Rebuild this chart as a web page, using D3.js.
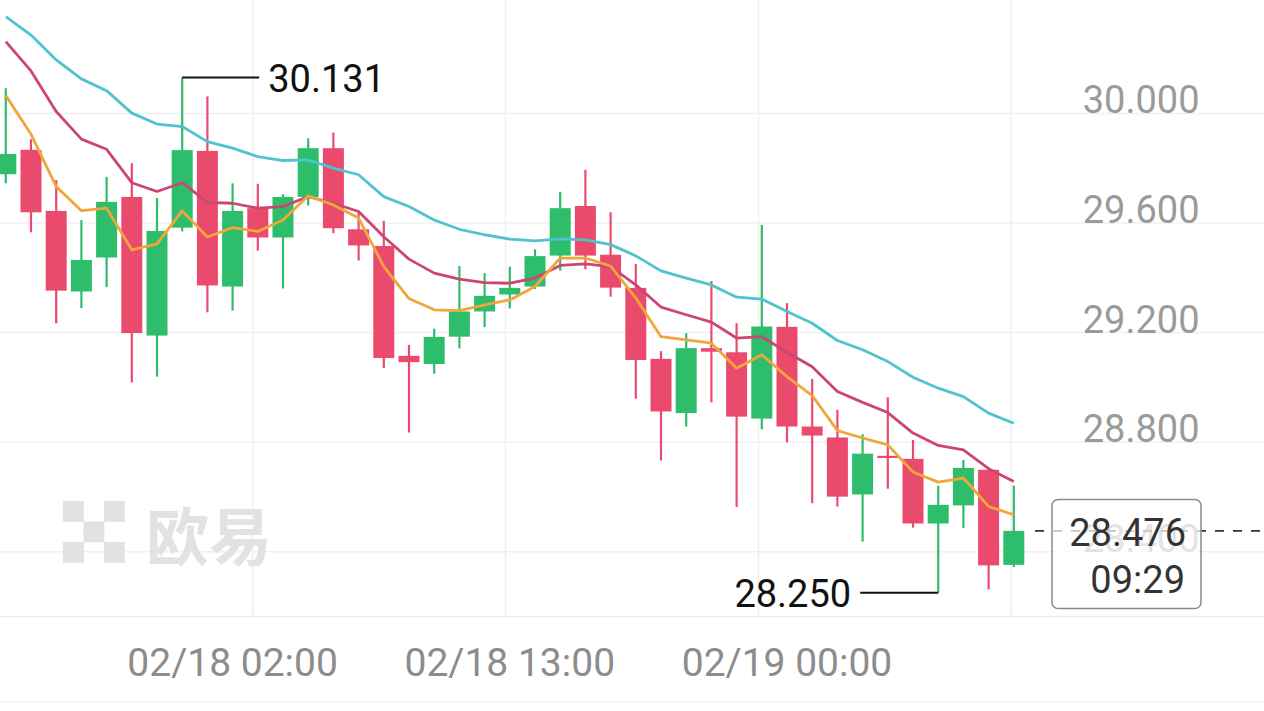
<!DOCTYPE html>
<html>
<head>
<meta charset="utf-8">
<script src="https://cdn.jsdelivr.net/npm/d3@7"></script>
<style>
  html, body { margin: 0; padding: 0; background: #fff; }
  svg { display: block; }
</style>
</head>
<body>
<svg id="chart" width="1264" height="711"></svg>
<script>
// ---- data (hourly candles, 02/17 17:00 .. 02/19 09:00) ----
const openVals  = [29.778,29.867,29.644,29.350,29.474,29.695,29.189,29.583,29.863,29.368,
                   29.654,29.547,29.695,29.873,29.577,29.516,29.115,29.085,29.185,29.277,
                   29.339,29.368,29.481,29.662,29.484,29.363,29.104,28.906,29.143,29.128,
                   28.886,29.221,28.857,28.817,28.609,28.750,28.739,28.503,28.569,28.699,28.352];
const highVals  = [30.092,29.906,29.757,29.611,29.768,29.818,29.691,30.131,30.062,29.745,
                   29.743,29.705,29.909,29.930,29.642,29.608,29.155,29.214,29.443,29.417,
                   29.440,29.504,29.714,29.794,29.639,29.450,29.132,29.198,29.388,29.234,
                   29.593,29.307,29.031,28.918,28.829,28.964,28.808,28.641,28.735,28.705,28.641];
const lowVals   = [29.745,29.566,29.234,29.289,29.366,29.018,29.039,29.569,29.274,29.280,
                   29.499,29.361,29.664,29.563,29.463,29.070,28.835,29.050,29.142,29.220,
                   29.288,29.359,29.426,29.431,29.331,28.959,28.733,28.857,28.945,28.563,
                   28.847,28.799,28.577,28.565,28.437,28.630,28.488,28.250,28.486,28.262,28.344];
const closeVals = [29.852,29.639,29.353,29.465,29.677,29.198,29.571,29.866,29.372,29.644,
                   29.547,29.695,29.873,29.581,29.518,29.107,29.092,29.184,29.277,29.334,
                   29.363,29.479,29.654,29.481,29.364,29.100,28.912,29.143,29.130,28.893,
                   29.222,28.857,28.824,28.601,28.758,28.742,28.503,28.571,28.706,28.350,28.476];
const maFast = [30.065,29.924,29.733,29.645,29.654,29.502,29.524,29.644,29.549,29.583,
                29.569,29.611,29.699,29.666,29.618,29.441,29.324,29.283,29.280,29.301,
                29.319,29.368,29.472,29.472,29.443,29.326,29.185,29.173,29.161,29.070,
                29.119,29.039,28.970,28.842,28.815,28.790,28.691,28.654,28.669,28.565,28.535];
const maMid  = [30.262,30.155,30.007,29.906,29.869,29.747,29.715,29.747,29.675,29.672,
                29.654,29.660,29.696,29.672,29.642,29.550,29.468,29.417,29.395,29.382,
                29.380,29.399,29.445,29.451,29.441,29.374,29.293,29.265,29.238,29.180,
                29.185,29.128,29.075,28.985,28.945,28.908,28.833,28.788,28.772,28.703,28.656];
const maSlow = [30.353,30.286,30.195,30.126,30.083,30.001,29.961,29.952,29.897,29.873,
                29.842,29.828,29.830,29.800,29.776,29.696,29.660,29.611,29.577,29.557,
                29.541,29.535,29.542,29.538,29.521,29.480,29.425,29.399,29.374,29.329,
                29.322,29.277,29.234,29.171,29.137,29.094,29.037,28.997,28.966,28.906,28.869];
const yTicks = [28.4, 28.8, 29.2, 29.6, 30.0];
const xTickIndex  = [9, 20, 31];
const xTickLabels = ["02/18 02:00", "02/18 13:00", "02/19 00:00"];
const lastPrice = 28.476;
const lastTime = "09:29";

// ---- layout ----
const W = 1264, H = 711;
const svg = d3.select("#chart");
const n = closeVals.length;
const x = d3.scaleLinear().domain([0, n - 1]).range([5.8, 1013.8]);
const y = d3.scaleLinear().domain([28.4, 30.0]).range([551.7, 113.4]);
const bodyW = 21;

const GREEN = "#2ebd6a", RED = "#ea4a6c";
const C_FAST = "#f0a63a", C_MID = "#cc4673", C_SLOW = "#4fc3cf";
const FONT = "Roboto, 'Noto Sans', sans-serif";

// grid
const grid = svg.append("g");
grid.selectAll("line.h").data(yTicks).join("line")
  .attr("x1", 0).attr("x2", W).attr("y1", d => y(d)).attr("y2", d => y(d))
  .attr("stroke", "#f0f0f0").attr("stroke-width", 1.5);
const vGrid = d3.range(1, 5).map(i => i * W / 5);
grid.selectAll("line.v").data(vGrid).join("line")
  .attr("x1", d => d).attr("x2", d => d).attr("y1", 0).attr("y2", 616.5)
  .attr("stroke", "#f0f0f0").attr("stroke-width", 1.5);
grid.append("line").attr("x1", 0).attr("x2", W).attr("y1", 616.5).attr("y2", 616.5)
  .attr("stroke", "#ececec").attr("stroke-width", 1.5);
grid.append("line").attr("x1", 0).attr("x2", W).attr("y1", 702).attr("y2", 702)
  .attr("stroke", "#f0f0f0").attr("stroke-width", 1.5);

// watermark
const wm = svg.append("g").attr("fill", "#e2e2e2");
const sq = 20.5, wx = 63, wy = 501;
[[0,0],[2,0],[1,1],[0,2],[2,2]].forEach(([c, r]) => {
  wm.append("rect").attr("x", wx + c * sq).attr("y", wy + r * sq).attr("width", sq + 0.3).attr("height", sq + 0.3);
});
wm.append("text").attr("x", 146).attr("y", 532).attr("dominant-baseline", "central")
  .attr("font-family", "'Noto Sans CJK SC', sans-serif").attr("font-weight", 700)
  .attr("font-size", 63).text("欧易");

// y axis labels
svg.append("g").selectAll("text").data(yTicks).join("text")
  .attr("x", 1199.5).attr("y", d => y(d)).attr("text-anchor", "end")
  .attr("font-family", FONT).attr("font-size", 38).attr("fill", "#9a9a9a")
  .text(d => d3.format(".3f")(d));

// x axis labels
svg.append("g").selectAll("text").data(xTickIndex).join("text")
  .attr("x", d => x(d)).attr("y", 676).attr("text-anchor", "middle")
  .attr("font-family", FONT).attr("font-size", 39).attr("fill", "#8c8c8c")
  .text((d, i) => xTickLabels[i]);

// candles
const idx = d3.range(n);
const cg = svg.append("g");
cg.selectAll("line.wick").data(idx).join("line")
  .attr("x1", i => x(i)).attr("x2", i => x(i))
  .attr("y1", i => y(highVals[i])).attr("y2", i => y(lowVals[i]))
  .attr("stroke", i => closeVals[i] >= openVals[i] ? GREEN : RED)
  .attr("stroke-width", 2.2);
cg.selectAll("rect.body").data(idx).join("rect")
  .attr("x", i => x(i) - bodyW / 2).attr("width", bodyW)
  .attr("y", i => y(Math.max(openVals[i], closeVals[i])))
  .attr("height", i => Math.max(2, Math.abs(y(openVals[i]) - y(closeVals[i]))))
  .attr("fill", i => closeVals[i] >= openVals[i] ? GREEN : RED);

// moving averages
const line = arr => d3.line().x((d, i) => x(i)).y(d => y(d))(arr);
[[maSlow, C_SLOW], [maMid, C_MID], [maFast, C_FAST]].forEach(([arr, c]) => {
  svg.append("path").attr("d", line(arr)).attr("fill", "none")
    .attr("stroke", c).attr("stroke-width", 2.8).attr("stroke-linejoin", "round");
});

// max / min annotations
const iMax = d3.maxIndex(highVals), iMin = d3.minIndex(lowVals);
const ann = svg.append("g").attr("font-family", FONT).attr("font-size", 38).attr("fill", "#111");
ann.append("line").attr("x1", x(iMax)).attr("x2", x(iMax) + 77)
  .attr("y1", y(highVals[iMax])).attr("y2", y(highVals[iMax]))
  .attr("stroke", "#111").attr("stroke-width", 2);
ann.append("text").attr("x", x(iMax) + 86).attr("y", y(highVals[iMax]) + 14)
  .text(d3.format(".3f")(highVals[iMax]));
ann.append("line").attr("x1", x(iMin)).attr("x2", x(iMin) - 78)
  .attr("y1", y(lowVals[iMin])).attr("y2", y(lowVals[iMin]))
  .attr("stroke", "#111").attr("stroke-width", 2);
ann.append("text").attr("x", x(iMin) - 87).attr("y", y(lowVals[iMin]) + 14)
  .attr("text-anchor", "end").text(d3.format(".3f")(lowVals[iMin]));

// last price line and box
const yl = y(lastPrice);
svg.append("line").attr("x1", 1035).attr("x2", W).attr("y1", yl).attr("y2", yl)
  .attr("stroke", "#333").attr("stroke-width", 1.8).attr("stroke-dasharray", "9,9");
svg.append("rect").attr("x", 1052).attr("y", 499.5).attr("width", 149).attr("height", 109)
  .attr("rx", 6).attr("fill", "#fff").attr("fill-opacity", 0.72)
  .attr("stroke", "#8a8a8a").attr("stroke-width", 1.5);
svg.append("text").attr("x", 1186).attr("y", 545.5).attr("text-anchor", "end")
  .attr("font-family", FONT).attr("font-size", 38).attr("fill", "#333")
  .text(d3.format(".3f")(lastPrice));
svg.append("text").attr("x", 1185).attr("y", 592.5).attr("text-anchor", "end")
  .attr("font-family", FONT).attr("font-size", 38).attr("fill", "#333")
  .text(lastTime);
</script>
</body>
</html>
